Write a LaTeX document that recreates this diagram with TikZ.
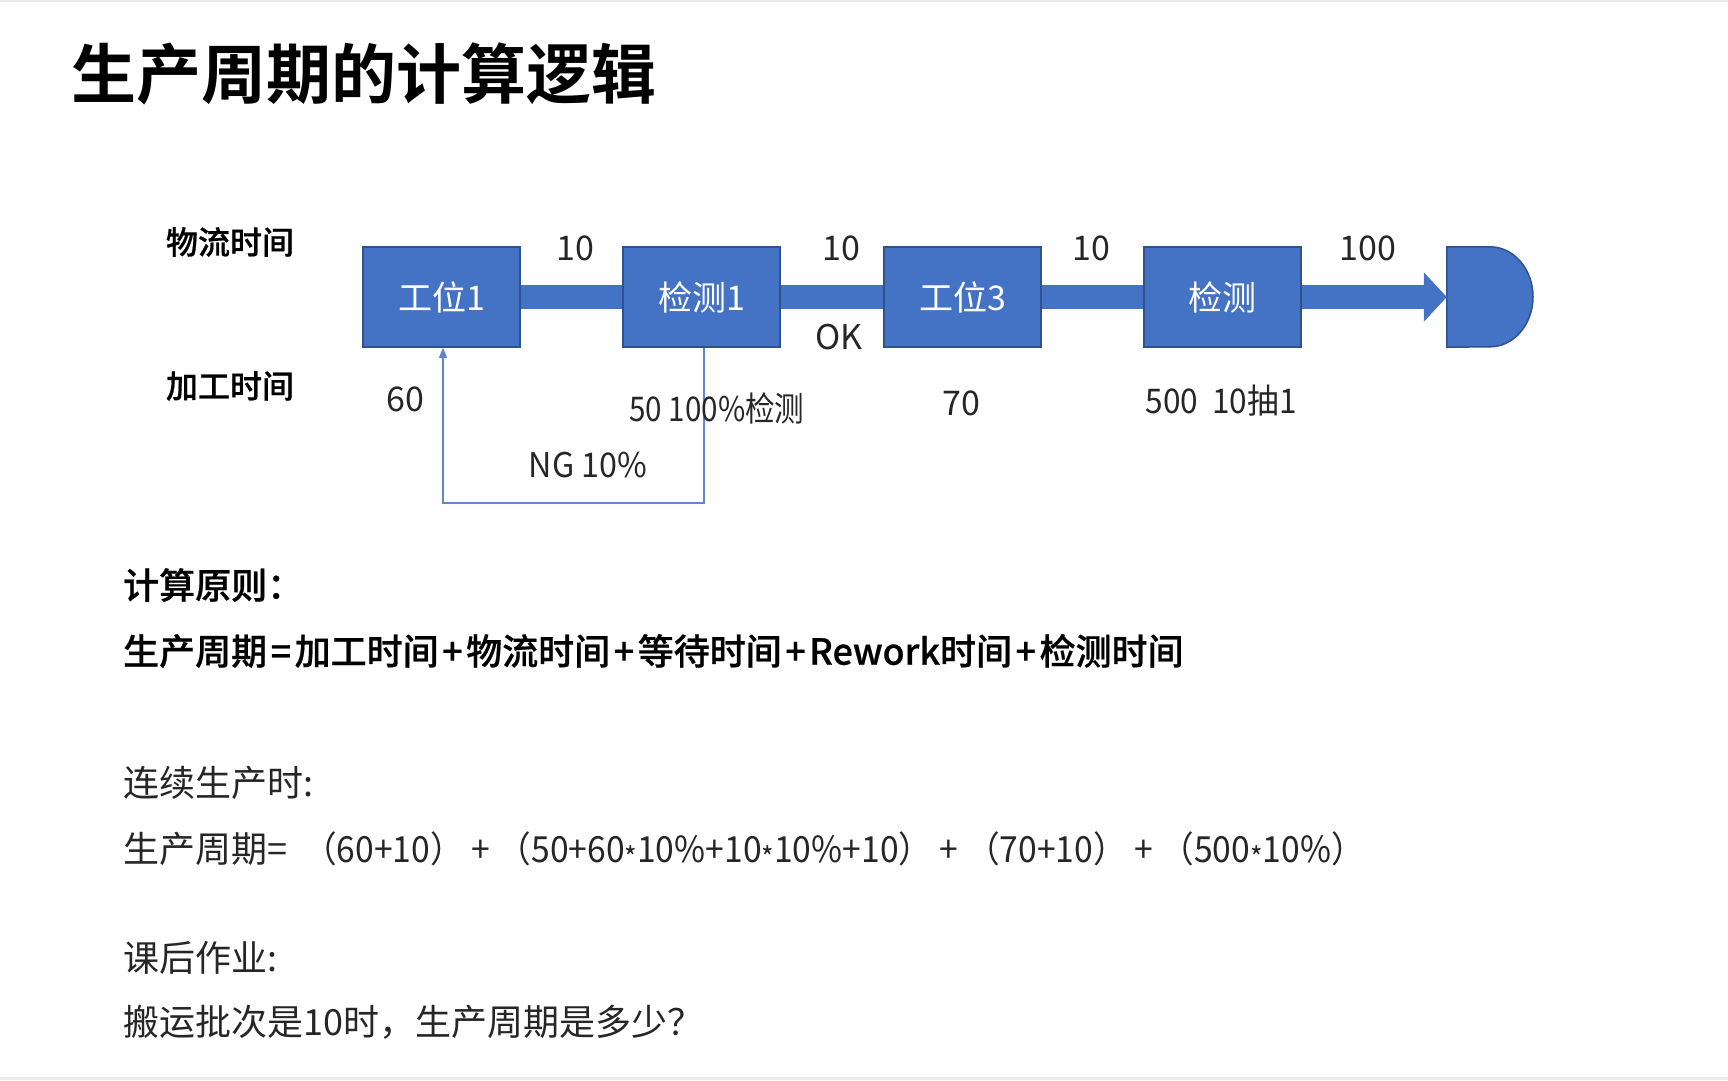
\documentclass[tikz,border=0pt]{standalone}
\usepackage{fontspec}
\setmainfont{Noto Sans CJK SC}[BoldFont={Noto Sans CJK SC Medium},BoldFeatures={FakeBold=0.6}]
\newfontfamily\heavyfont{Noto Sans CJK SC Bold}
\usetikzlibrary{arrows.meta}
\definecolor{boxblue}{HTML}{4472C4}
\definecolor{boxedge}{HTML}{2F528F}
\definecolor{textgrey}{HTML}{262626}
\newcommand{\setfs}[1]{\fontsize{#1bp}{#1bp}\selectfont}
\newcommand{\squeeze}[2]{{\addfontfeatures{FakeStretch=#1}#2}}
\newcommand{\smallstar}{\raisebox{-0.18em}{\scalebox{0.8}{*}}}
\newcommand{\widesym}[1]{\hspace{3.5bp}#1\hspace{3.5bp}}
\begin{document}
\begin{tikzpicture}[x=1bp, y=-1bp, inner sep=0pt, station/.style={rectangle,draw=boxedge,line width=1.5bp,fill=boxblue,minimum width=157bp,minimum height=100bp,text=white,font=\setfs{34}}, flow/.style={draw=boxblue,line width=24bp}, numlabel/.style={text=textgrey,font=\setfs{34}}, rowhead/.style={text=black,font=\bfseries\setfs{32}}, bodytext/.style={anchor=west,text=textgrey,font=\setfs{36}}]
\fill[white] (0,0) rectangle (1728,1080);
\useasboundingbox (0,0) rectangle (1728,1080);
\fill[black!8] (0,0) rectangle (1728,2);
\fill[black!8] (0,1077) rectangle (1728,1080);
\node[anchor=west,font=\heavyfont\setfs{65}] (title) at (71,74) {生产周期的计算逻辑};
\node[rowhead] (wuliu) at (230,242) {物流时间};
\node[rowhead] (jiagong) at (230,386) {加工时间};
\begin{scope}
\node[station] (s1) at (441.5,297) {工位1};
\node[station] (c1) at (701.5,297) {检测1};
\node[station] (s3) at (962.5,297) {工位3};
\node[station] (c2) at (1222.5,297) {检测};
\node[minimum width=86bp,minimum height=100bp] (sink) at (1490,297) {};
\end{scope}
\fill[boxblue,draw=boxedge,line width=1.5bp] (sink.north west) -- (sink.north) arc[start angle=90,end angle=-90,x radius=43bp,y radius=50bp] -- (sink.south west) -- cycle;
\begin{scope}
\draw[flow] (s1.east) -- (c1.west);
\draw[flow] (c1.east) -- (s3.west);
\draw[flow] (s3.east) -- (c2.west);
\draw[flow,-{Triangle[length=23bp,width=48bp]}] (c2.east) -- (sink.west);
\end{scope}
\draw[boxblue!85,line width=1.5bp,-{Triangle[length=10bp,width=8bp]}] ([xshift=2.5bp]c1.south) -- ++(0,155) -| ([xshift=1.5bp]s1.south);
\begin{scope}[every node/.style={numlabel}]
\node (t1) at (575,248) {10};
\node (t2) at (841,248) {10};
\node (t3) at (1091,248) {10};
\node (t4) at (1368,248) {100};
\node (ok) at (839,337) {OK};
\node (p1) at (405,399) {60};
\node (p2) at (717,408) {\squeeze{0.87}{50 100\%检测}};
\node (p3) at (961,403) {70};
\node (p4) at (1221,401) {\squeeze{0.93}{500\ \ 10抽1}};
\node (ng) at (588,465) {\squeeze{0.95}{NG 10\%}};
\end{scope}
\node[bodytext,text=black,font=\bfseries\setfs{36}] (rule) at (123,585) {计算原则：};
\node[bodytext,text=black,font=\bfseries\setfs{36}] (formula) at (123,651) {生产周期\widesym{=}加工时间\widesym{+}物流时间\widesym{+}等待时间\widesym{+}Rework时间\widesym{+}检测时间};
\node[bodytext] (cont) at (123,783) {连续生产时:};
\node[bodytext] (calc) at (123,850) {生产周期=\hspace{16bp}\squeeze{0.935}{（60+10） + （50+60\smallstar10\%+10\smallstar10\%+10） + （70+10） + （500\smallstar10\%）}};
\node[bodytext] (hw) at (123,958) {课后作业:};
\node[bodytext] (ask) at (123,1022) {搬运批次是10时，生产周期是多少？};
\end{tikzpicture}
\end{document}
